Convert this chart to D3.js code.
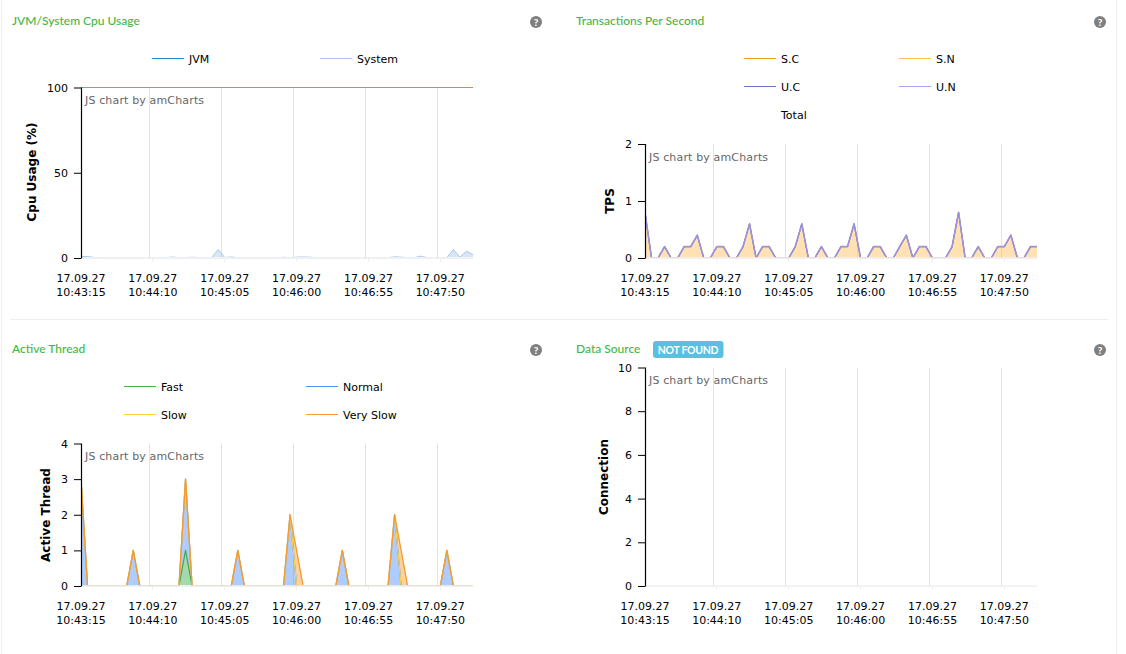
<!DOCTYPE html>
<html><head><meta charset="utf-8">
<script src="https://cdnjs.cloudflare.com/ajax/libs/d3/7.8.5/d3.min.js"></script>
<style>html,body{margin:0;padding:0;background:#fff;overflow:hidden}svg{display:block}</style>
</head><body><svg id="c" width="1126" height="654"></svg>
<script>
// x axis
const tickDates = ["17.09.27","17.09.27","17.09.27","17.09.27","17.09.27","17.09.27"];
const tickTimes = ["10:43:15","10:44:10","10:45:05","10:46:00","10:46:55","10:47:50"];
const tickSamples = [0,11,22,33,44,55];
const sampleCount = 61;

// JVM/System Cpu Usage
const cpuSystem = [0.8,0.9,0.3,0.3,0.2,0.2,0.2,0.2,0.2,0.2,0.2,0.2,0.2,0.2,0.6,0.2,0.2,0.5,0.2,0.2,0.2,5.0,0.3,0.6,0.2,0.2,0.2,0.2,0.2,0.2,0.2,0.4,0.2,0.5,0.6,0.5,0.2,0.2,0.2,0.2,0.2,0.2,0.2,0.2,0.3,0.2,0.2,0.2,0.7,0.5,0.2,0.2,1.1,0.2,0.2,0.2,0.3,5.0,0.5,4.0,2.0];
const cpuLimit = [100,100];

// Transactions Per Second
const tpsSC = [0,0,0,0,0,0,0,0,0,0,0,0,0,0,0,0,0,0,0,0,0,0,0,0,0,0,0,0,0,0,0,0,0,0,0,0,0,0,0,0,0,0,0,0,0,0,0,0,0,0,0,0,0,0,0,0,0,0,0,0,0];
const tpsSN = [0.8,0,0,0.2,0,0,0.2,0.2,0.4,0,0,0.2,0.2,0,0,0.2,0.6,0,0.2,0.2,0,0,0,0.2,0.6,0,0,0.2,0,0,0.2,0.2,0.6,0,0,0.2,0.2,0,0,0.2,0.4,0,0.2,0.2,0,0,0,0.2,0.8,0,0,0.2,0,0,0.2,0.2,0.4,0,0,0.2,0.2];
const tpsUC = [0,0,0,0,0,0,0,0,0,0,0,0,0,0,0,0,0,0,0,0,0,0,0,0,0,0,0,0,0,0,0,0,0,0,0,0,0,0,0,0,0,0,0,0,0,0,0,0,0,0,0,0,0,0,0,0,0,0,0,0,0];
const tpsUN = [0,0,0,0,0,0,0,0,0,0,0,0,0,0,0,0,0,0,0,0,0,0,0,0,0,0,0,0,0,0,0,0,0,0,0,0,0,0,0,0,0,0,0,0,0,0,0,0,0,0,0,0,0,0,0,0,0,0,0,0,0];

// Active Thread
const threadFast =     [0,0,0,0,0,0,0,0,0,0,0,0,0,0,0,0,1,0,0,0,0,0,0,0,0,0,0,0,0,0,0,0,0,0,0,0,0,0,0,0,0,0,0,0,0,0,0,0,0,0,0,0,0,0,0,0,0,0,0,0,0];
const threadNormal =   [3,0,0,0,0,0,0,0,1,0,0,0,0,0,0,0,2,0,0,0,0,0,0,0,1,0,0,0,0,0,0,0,2,0,0,0,0,0,0,0,1,0,0,0,0,0,0,0,2,0,0,0,0,0,0,0,1,0,0,0,0];
const threadSlow =     [0,0,0,0,0,0,0,0,0,0,0,0,0,0,0,0,0,0,0,0,0,0,0,0,0,0,0,0,0,0,0,0,0,0,0,0,0,0,0,0,0,0,0,0,0,0,0,0,0,0,0,0,0,0,0,0,0,0,0,0,0];
const threadVerySlow = [0,0,0,0,0,0,0,0,0,0,0,0,0,0,0,0,0,0,0,0,0,0,0,0,0,0,0,0,0,0,0,0,0,1,0,0,0,0,0,0,0,0,0,0,0,0,0,0,0,1,0,0,0,0,0,0,0,0,0,0,0];

const cpuTicks = [0,50,100], tpsTicks = [0,1,2], threadTicks = [0,1,2,3,4], connTicks = [0,2,4,6,8,10];

const svg = d3.select("#c");
const VERDANA = "'DejaVu Sans',Verdana,sans-serif";
const LATO = "Lato,sans-serif";
const GREEN = "#43b843";

// page frame
svg.append("line").attr("x1",1.5).attr("x2",1.5).attr("y1",0).attr("y2",654).attr("stroke","#eeeeee");
svg.append("line").attr("x1",1116.5).attr("x2",1116.5).attr("y1",0).attr("y2",654).attr("stroke","#eeeeee");
svg.append("line").attr("x1",10).attr("x2",1108).attr("y1",319.5).attr("y2",319.5).attr("stroke","#eeeeee");

function header(x, y, title, iconX){
  svg.append("text").attr("x",x).attr("y",y+5).attr("fill",GREEN)
    .attr("font-family",LATO).attr("font-size",12).attr("font-weight",500).text(title);
  svg.append("circle").attr("cx",iconX).attr("cy",y+2).attr("r",6).attr("fill","#7f7f7f");
  svg.append("text").attr("x",iconX).attr("y",y+5.5).attr("text-anchor","middle").attr("fill","#fff")
    .attr("font-family",LATO).attr("font-size",10).attr("font-weight",900).text("?");
}

function legend(items){
  items.forEach(d=>{
    if(d.color) svg.append("line").attr("x1",d.x).attr("x2",d.x+32).attr("y1",d.y-0.5).attr("y2",d.y-0.5)
      .attr("stroke",d.color).attr("stroke-width",1);
    svg.append("text").attr("x",d.x+37).attr("y",d.y+4).attr("fill","#000")
      .attr("font-family",VERDANA).attr("font-size",11).text(d.label);
  });
}

let clipId = 0;
function chart(o){
  const g = svg.append("g");
  const x = d3.scaleLinear().domain([0,sampleCount-1]).range([o.x0,o.x1]);
  const y = d3.scaleLinear().domain(o.domain).range([o.y0,o.y1]);
  const step = x(1)-x(0);

  // vertical grid, offset half a sample from the time ticks
  g.append("g").selectAll("line").data(tickSamples.slice(1)).join("line")
    .attr("x1",d=>Math.floor(x(d)-step/2)+0.5).attr("x2",d=>Math.floor(x(d)-step/2)+0.5)
    .attr("y1",o.y1).attr("y2",o.y0).attr("stroke","#e3e3e3");

  // series
  const id = "clip"+(clipId++);
  g.append("clipPath").attr("id",id).append("rect")
    .attr("x",o.x0).attr("y",o.y1-2).attr("width",o.x1-o.x0+1).attr("height",o.y0-o.y1+2-0.7);
  const s = g.append("g").attr("clip-path",`url(#${id})`);
  if(o.series){
    const rows = d3.range(sampleCount);
    const stack = d3.stack().keys(d3.range(o.series.length)).value((i,k)=>o.series[k].values[i])(rows);
    const area = d3.area().x((d,i)=>x(i)).y0(d=>y(d[0])).y1(d=>y(d[1]));
    const line = d3.line().x((d,i)=>x(i)).y(d=>y(d[1]));
    stack.forEach((lay,k)=>{
      s.append("path").attr("d",area(lay)).attr("fill",o.series[k].color).attr("fill-opacity",o.series[k].alpha ?? 0.45);
    });
    stack.forEach((lay,k)=>{
      s.append("path").attr("d",line(lay)).attr("fill","none").attr("stroke",o.series[k].color)
        .attr("stroke-width",o.series[k].width ?? 1.2).attr("stroke-linejoin","round");
    });
  }
  if(o.limit){
    const lx = d3.scaleLinear().domain([0,o.limit.length-1]).range([o.x0,o.x1]);
    g.append("path").attr("d",d3.line().x((d,i)=>lx(i)).y(d=>y(d))(o.limit))
      .attr("fill","none").attr("stroke","#ec7f30").attr("stroke-width",1);
  }

  // category axis
  g.append("line").attr("x1",o.x0).attr("x2",o.x1).attr("y1",o.y0+0.25).attr("y2",o.y0+0.25).attr("stroke","#efefef").attr("stroke-width",1.5);
  tickSamples.forEach((t,i)=>{
    if(i>0) g.append("line").attr("x1",Math.floor(x(t))+0.5).attr("x2",Math.floor(x(t))+0.5)
      .attr("y1",o.y0).attr("y2",o.y0+4).attr("stroke","#efefef");
    const lab = g.append("text").attr("text-anchor","middle").attr("fill","#000")
      .attr("font-family",VERDANA).attr("font-size",11);
    lab.append("tspan").attr("x",x(t)).attr("y",o.y0+24).text(tickDates[i]);
    lab.append("tspan").attr("x",x(t)).attr("y",o.y0+37.5).text(tickTimes[i]);
  });

  // value axis
  const ya = g.append("g").attr("transform",`translate(${o.x0},0)`)
    .call(d3.axisLeft(y).tickValues(o.ticks).tickSize(7).tickPadding(6).tickFormat(d3.format("d")));
  ya.select(".domain").attr("stroke","#000").attr("d",`M0.5,${o.y1}V${o.y0+0.5}`).attr("stroke-width",1.2);
  ya.selectAll("line").attr("stroke","#000");
  ya.selectAll("text").attr("font-family",VERDANA).attr("font-size",11).attr("fill","#000");

  // axis title
  g.append("text").attr("transform",`translate(${o.titleX},${o.titleY}) rotate(-90)`)
    .attr("text-anchor","middle").attr("font-family",VERDANA).attr("font-size",12).attr("font-weight",700)
    .attr("fill","#000").text(o.title);

  // credit
  g.append("text").attr("x",o.x0+4).attr("y",o.y1+16.5).attr("fill","#666").attr("letter-spacing",0.15)
    .attr("font-family",VERDANA).attr("font-size",11).text("JS chart by amCharts");
}

// Panel 1
header(12,20,"JVM/System Cpu Usage",536);
legend([{x:152,y:59,color:"#2a8bcb",label:"JVM"},{x:320,y:59,color:"#a9c8ea",label:"System"}]);
chart({x0:81,x1:473,y0:258,y1:87.5,domain:[0,100],ticks:cpuTicks,title:"Cpu Usage (%)",titleX:36,titleY:172,
  limit:cpuLimit,
  series:[{values:cpuSystem,color:"#a9c8ea",alpha:0.45,width:1}]});

// Panel 2
header(576,20,"Transactions Per Second",1100);
legend([{x:744,y:59,color:"#e8a317",label:"S.C"},{x:899,y:59,color:"#ffc04d",label:"S.N"},
        {x:744,y:87,color:"#6a74c4",label:"U.C"},{x:899,y:87,color:"#a8a4f0",label:"U.N"},
        {x:744,y:115,color:null,label:"Total"}]);
chart({x0:645,x1:1037,y0:258,y1:144,domain:[0,2],ticks:tpsTicks,title:"TPS",titleX:614,titleY:201,
  series:[{values:tpsSC,color:"#e8a317",alpha:0},{values:tpsSN,color:"#ffb84d",alpha:0.42},
          {values:tpsUC,color:"#6a74c4",alpha:0},{values:tpsUN,color:"#9b93dd",alpha:0,width:1.5}]});

// Panel 3
header(12,348,"Active Thread",536);
legend([{x:124,y:387,color:"#3fb24a",label:"Fast"},{x:306,y:387,color:"#4d94ff",label:"Normal"},
        {x:124,y:415,color:"#ffd23f",label:"Slow"},{x:306,y:415,color:"#ff9933",label:"Very Slow"}]);
chart({x0:81,x1:473,y0:586,y1:443.5,domain:[0,4],ticks:threadTicks,title:"Active Thread",titleX:50,titleY:515,
  series:[{values:threadFast,color:"#3fa84a"},{values:threadNormal,color:"#4d8dff"},
          {values:threadSlow,color:"#ffd23f"},{values:threadVerySlow,color:"#f59a2f",width:1.3}]});

// Panel 4
header(576,348,"Data Source",1100);
svg.append("rect").attr("x",653).attr("y",341).attr("width",70.5).attr("height",17).attr("rx",3).attr("fill","#5bc0de");
svg.append("text").attr("x",688).attr("y",353.5).attr("text-anchor","middle").attr("fill","#fff")
  .attr("font-family",LATO).attr("font-size",10.5).attr("font-weight",700).attr("letter-spacing",-0.3).text("NOT FOUND");
chart({x0:645,x1:1037,y0:586,y1:367.5,domain:[0,10],ticks:connTicks,title:"Connection",titleX:608,titleY:477});
</script></body></html>
